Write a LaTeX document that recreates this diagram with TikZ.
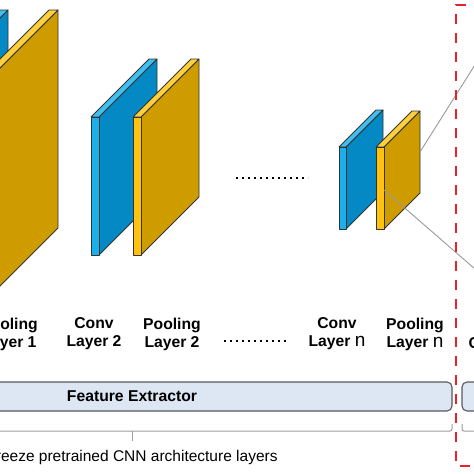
\documentclass[tikz,border=0pt]{standalone}
\usepackage{fontspec}
\setmainfont{Liberation Sans}
\usepackage{tikz}
\usetikzlibrary{positioning}

\definecolor{frontblue}{HTML}{1CB0EA}
\definecolor{sideblue}{HTML}{0489C4}
\definecolor{topblue}{HTML}{3FBEF0}
\definecolor{frontgold}{HTML}{FFC20F}
\definecolor{sidegold}{HTML}{CF9C00}
\definecolor{topgold}{HTML}{FFD03A}
\definecolor{boxfill}{HTML}{DCE7F3}
\definecolor{framered}{HTML}{E8212B}

\begin{document}
\begin{tikzpicture}[x=1pt, y=-1pt,
	slabedge/.style={draw=black!80, line width=0.8pt, line join=round},
	layerlabel/.style={font=\fontsize{15.7}{18}\selectfont\bfseries, align=center},
	partbox/.style={draw=black!65, fill=boxfill, line width=1.1pt, rounded corners=5pt},
	bracket/.style={draw=black!38, line width=1pt, rounded corners=2pt},
	zoomline/.style={draw=black!40, line width=0.9pt},
	dotline/.style={line width=2.2pt, dash pattern=on 2.2pt off 3.8pt},
	headframe/.style={draw=framered, line width=2.6pt, dash pattern=on 10pt off 9pt}]
		\useasboundingbox (0,0) rectangle (474,474);
		\clip (0,0) rectangle (474,474);

		% draw layers
		\foreach \name/\x/\y/\w/\h/\d/\c in {conv1/-96/105/9/218/95/blue, pool1/-46/105/9/218/95/gold,
			conv2/91/117/8/138/58/blue, pool2/133/117/8/138/58/gold,
			convn/339/147/7/82/37/blue, pooln/376/147/8/82/36/gold}
		{
			\filldraw[slabedge, fill=side\c] (\x+\w,\y) -- ++(\d,-\d) -- ++(0,\h) -- ++(-\d,\d) -- cycle;
			\filldraw[slabedge, fill=top\c] (\x,\y) -- ++(\d,-\d) -- ++(\w,0) -- ++(-\d,\d) -- cycle;
			\filldraw[slabedge, fill=front\c] (\x,\y) rectangle ++(\w,\h);
		}

		% draw zoom lines out of the last pooling layer
		\coordinate (pooln-back) at (420,152);
		\coordinate (pooln-front) at (384,190);
		\coordinate (head-top) at (490,41);
		\coordinate (head-bottom) at (490,282);
		\draw[zoomline] (pooln-back) -- (head-top);
		\draw[zoomline] (pooln-front) -- (head-bottom);

		% draw dots
		\draw[dotline] (236,178) -- (308,178);
		\draw[dotline] (224,341) -- (286,341);

		% draw labels
		\node[layerlabel] (pool1-label) at (9,334) {Pooling\\Layer 1};
		\node[layerlabel] (conv2-label) at (94,334) {Conv\\Layer 2};
		\node[layerlabel] (pool2-label) at (172,334) {Pooling\\Layer 2};
		\node[layerlabel] (convn-label) at (337,334) {Conv\\Layer {\mdseries\fontsize{19}{18}\selectfont n}};
		\node[layerlabel] (pooln-label) at (415,334) {Pooling\\Layer {\mdseries\fontsize{19}{18}\selectfont n}};
		\node[layerlabel, anchor=west] (head-label) at (465,343) {C};

		% draw boxes
		\node[partbox, minimum width=640pt, minimum height=29pt, layerlabel] (extractor) at (132,396.5) {Feature Extractor};
		\draw[partbox] (462,382) rectangle (530,411);

		% draw brackets
		\draw[bracket] (-186,424) |- (452,431) -- (452,424);
		\draw[bracket] (132,431) -- (132,441);
		\draw[bracket] (462,424) |- (530,431);
		\node[font=\fontsize{15.5}{18}\selectfont] (freeze) at (132,457) {Freeze pretrained CNN architecture layers};

		% draw red frame
		\draw[headframe] (466,5) -- (456,5) -- (456,466) -- (480,466);
	\end{tikzpicture}
\end{document}
